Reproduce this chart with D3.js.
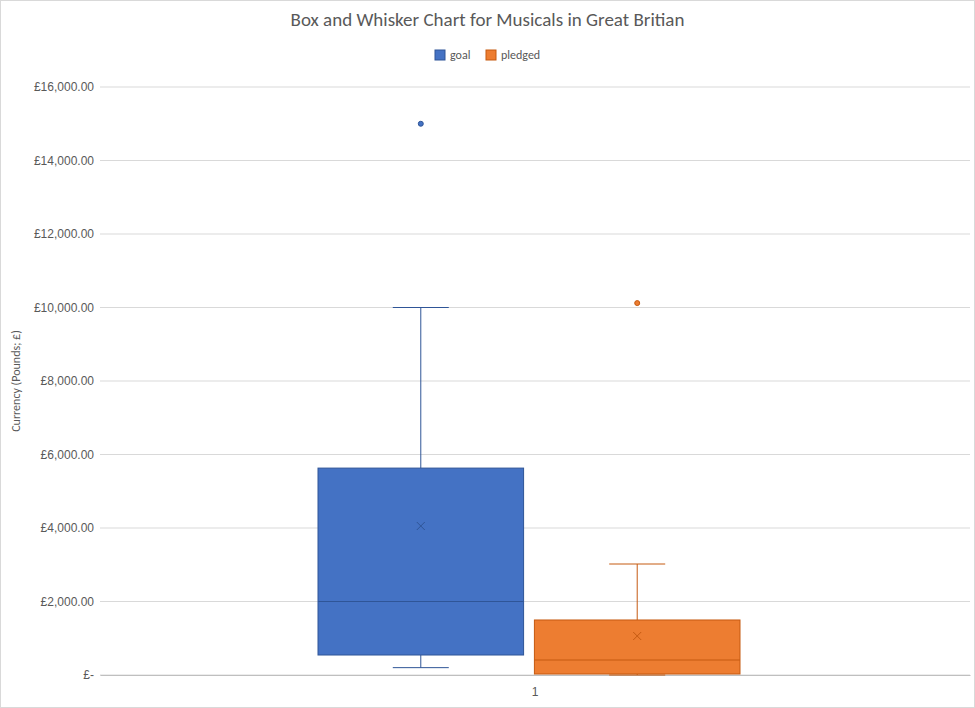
<!DOCTYPE html>
<html><head><meta charset="utf-8">
<script src="https://cdn.jsdelivr.net/npm/d3@7"></script>
<style>body{margin:0;background:#fff;font-family:Calibri,Carlito,"Open Sans",sans-serif;}</style>
</head><body><svg id="vis-svg"></svg>
<script>
// summary stats
var seriesNames = ["goal", "pledged"];
var seriesColors = ["#4472C4", "#ED7D31"];
var strokeColors = ["#2F5597", "#C55A11"];
var q1 = [544, 27];
var medians = [2000, 408];
var q3 = [5630, 1497];
var whiskerLow = [200, 0];
var whiskerHigh = [10000, 3020];
var means = [4054, 1061];
var outliers = [[15000], [10120]];
var yTicks = [0, 2000, 4000, 6000, 8000, 10000, 12000, 14000, 16000];

var width = 975, height = 708;
var margin = {top: 87, bottom: 33, left: 100, right: 5};
var svg = d3.select('#vis-svg').attr('width', width).attr('height', height);

svg.append('rect').attr('x', 0.5).attr('y', 0.5).attr('width', width - 1).attr('height', height - 1)
  .attr('fill', 'none').attr('stroke', '#d9d9d9');

var yScale = d3.scaleLinear().domain([0, 16000]).range([height - margin.bottom, margin.top]);
var xScale = d3.scaleBand().domain(["1"]).range([margin.left, width - margin.right]);
var inner = d3.scaleBand().domain(seriesNames).range([318, 740]).paddingInner(0.05);

var fmt = function(v){ return v === 0 ? "£-" : "£" + d3.format(",.2f")(v); };

// gridlines
svg.append('g').selectAll('line').data(yTicks).enter().append('line')
  .attr('x1', margin.left).attr('x2', width - margin.right)
  .attr('y1', function(d){return yScale(d);}).attr('y2', function(d){return yScale(d);})
  .attr('stroke', '#d9d9d9');

var yAxis = svg.append('g').attr('transform', `translate(${margin.left},0)`)
  .call(d3.axisLeft(yScale).tickValues(yTicks).tickFormat(fmt).tickSize(0).tickPadding(6));
yAxis.select('.domain').remove();
yAxis.selectAll('text').attr('fill', '#595959').style('font-size', '12px');

var xAxis = svg.append('g').attr('transform', `translate(0,${height - margin.bottom})`)
  .call(d3.axisBottom(xScale).tickSize(0).tickPadding(12));
xAxis.select('.domain').attr('stroke', '#bfbfbf');
xAxis.selectAll('text').attr('fill', '#595959').style('font-size', '12px');

svg.append('text').attr('transform', 'translate(20,' + ((margin.top + height - margin.bottom) / 2) + ') rotate(-90)')
  .attr('text-anchor', 'middle').attr('fill', '#595959').style('font-size', '12px')
  .text('Currency (Pounds; £)');

svg.append('text').attr('x', width / 2).attr('y', 26).attr('text-anchor', 'middle')
  .attr('fill', '#595959').style('font-size', '19px').text('Box and Whisker Chart for Musicals in Great Britian');

// legend
var leg = svg.append('g').selectAll('g').data(seriesNames).enter().append('g')
  .attr('transform', function(d, i){ return `translate(${435 + i * 51},50)`; });
leg.append('rect').attr('width', 10).attr('height', 10)
  .attr('fill', function(d, i){return seriesColors[i];}).attr('stroke', function(d, i){return strokeColors[i];});
leg.append('text').attr('x', 15).attr('y', 9).attr('fill', '#595959').style('font-size', '12px').text(function(d){return d;});

// boxes
seriesNames.forEach(function(name, i) {
  var x0 = inner(name), bw = inner.bandwidth(), cx = x0 + bw / 2, cap = 28;
  var g = svg.append('g').attr('stroke', strokeColors[i]);
  g.append('line').attr('x1', cx).attr('x2', cx).attr('y1', yScale(q3[i])).attr('y2', yScale(whiskerHigh[i]));
  g.append('line').attr('x1', cx).attr('x2', cx).attr('y1', yScale(q1[i])).attr('y2', yScale(whiskerLow[i]));
  g.append('line').attr('x1', cx - cap).attr('x2', cx + cap).attr('y1', yScale(whiskerHigh[i])).attr('y2', yScale(whiskerHigh[i]));
  g.append('line').attr('x1', cx - cap).attr('x2', cx + cap).attr('y1', yScale(whiskerLow[i])).attr('y2', yScale(whiskerLow[i]));
  g.append('rect').attr('x', x0).attr('width', bw).attr('y', yScale(q3[i]))
    .attr('height', yScale(q1[i]) - yScale(q3[i])).attr('fill', seriesColors[i]);
  g.append('line').attr('x1', x0).attr('x2', x0 + bw).attr('y1', yScale(medians[i])).attr('y2', yScale(medians[i]));
  var my = yScale(means[i]);
  g.append('path').attr('d', `M${cx-4},${my-4}L${cx+4},${my+4}M${cx-4},${my+4}L${cx+4},${my-4}`);
  g.selectAll('circle').data(outliers[i]).enter().append('circle')
    .attr('cx', cx).attr('cy', function(d){return yScale(d);}).attr('r', 2.5).attr('fill', seriesColors[i]);
});
</script></body></html>
